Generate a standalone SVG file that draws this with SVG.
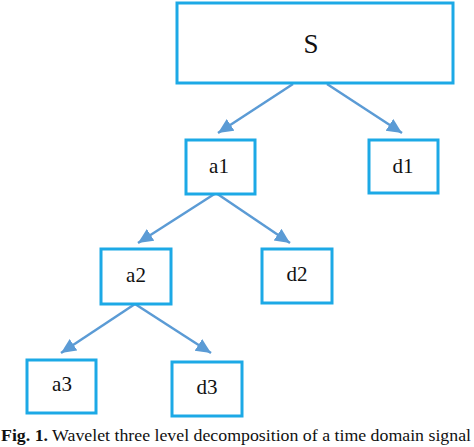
<svg xmlns="http://www.w3.org/2000/svg" width="474" height="447" viewBox="0 0 474 447">
<style>
.box{fill:#fff;stroke:#1CA9E6;stroke-width:3}
.lbl{font-family:"Liberation Serif","Times New Roman",serif;font-size:21px;fill:#111;text-anchor:middle;dominant-baseline:central}
.big{font-size:27px}
.edge{stroke:#5B9BD5;stroke-width:2.5;fill:none;marker-end:url(#ah)}
.cap{font-family:"Liberation Serif","Times New Roman",serif;font-size:16px;fill:#111}
</style>
<defs>
<marker id="ah" markerUnits="userSpaceOnUse" markerWidth="18" markerHeight="16" refX="15" refY="7" orient="auto">
<path d="M0,0 L15,7 L0,14 Z" fill="#5B9BD5"/>
</marker>
</defs>
<rect width="474" height="447" fill="#fff"/>
<g id="connectors">
<line class="edge" x1="293" y1="84" x2="218" y2="133"/>
<line class="edge" x1="327" y1="84" x2="402" y2="133"/>
<line class="edge" x1="216" y1="193" x2="138" y2="243"/>
<line class="edge" x1="216" y1="193" x2="290" y2="243"/>
<line class="edge" x1="135" y1="304" x2="61" y2="353"/>
<line class="edge" x1="135" y1="304" x2="211" y2="353"/>
</g>
<g id="node-S"><rect class="box" x="177" y="3" width="276" height="80"/><text class="lbl big" x="311" y="44">S</text></g>
<g id="node-a1"><rect class="box" x="186" y="140" width="69" height="54"/><text class="lbl" x="219" y="166">a1</text></g>
<g id="node-d1"><rect class="box" x="369" y="140" width="69" height="53"/><text class="lbl" x="403" y="166">d1</text></g>
<g id="node-a2"><rect class="box" x="101" y="249" width="70" height="55"/><text class="lbl" x="136" y="275">a2</text></g>
<g id="node-d2"><rect class="box" x="262" y="249" width="70" height="54"/><text class="lbl" x="297" y="274">d2</text></g>
<g id="node-a3"><rect class="box" x="27" y="360" width="69" height="53"/><text class="lbl" x="62" y="384">a3</text></g>
<g id="node-d3"><rect class="box" x="172" y="362" width="70" height="54"/><text class="lbl" x="207" y="387">d3</text></g>
<text class="cap" x="1" y="441" textLength="470" lengthAdjust="spacingAndGlyphs"><tspan font-weight="bold">Fig. 1.</tspan> Wavelet three level decomposition of a time domain signal</text>
</svg>
